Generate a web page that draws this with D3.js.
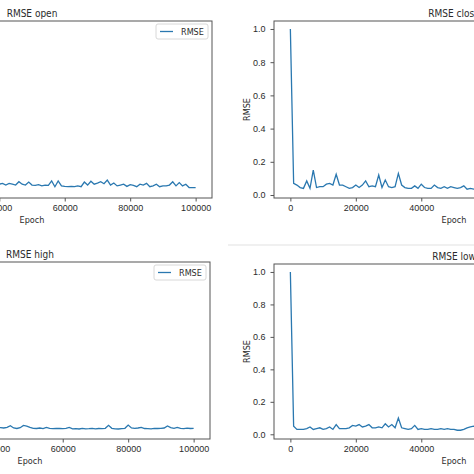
<!DOCTYPE html>
<html lang="en">
<head>
<meta charset="UTF-8">
<title>RMSE per epoch</title>
<script src="https://cdn.jsdelivr.net/npm/d3@7"></script>
<style>
    body { margin: 0; background: #fff; }
    svg { display: block; font-family: "DejaVu Sans Condensed", "DejaVu Sans", sans-serif; }
</style>
</head>
<body>
<svg width="474" height="474"></svg>
<script>
    // epochs sampled every 1000
    const epochs = d3.range(0, 100001, 1000);
    const xTicks = [0, 20000, 40000, 60000, 80000, 100000];
    const yTicks = [0, 0.2, 0.4, 0.6, 0.8, 1.0];

    // values (one per 1000 epochs)
    const openRmse = [
        1.0, 0.08, 0.065, 0.06, 0.07, 0.06, 0.075, 0.06, 0.065, 0.07,
        0.06, 0.065, 0.07, 0.06, 0.08, 0.065, 0.06, 0.07, 0.065, 0.06,
        0.07, 0.075, 0.06, 0.065, 0.07, 0.06, 0.065, 0.07, 0.06, 0.065,
        0.07, 0.06, 0.075, 0.065, 0.06, 0.07, 0.065, 0.06, 0.07, 0.065,
        0.065, 0.07, 0.06, 0.07, 0.065, 0.06, 0.08, 0.065, 0.06, 0.078,
        0.06, 0.058, 0.062, 0.055, 0.06, 0.058, 0.085, 0.05, 0.085, 0.055,
        0.052, 0.05, 0.052, 0.05, 0.055, 0.05, 0.078, 0.06, 0.083, 0.065,
        0.072, 0.08, 0.068, 0.09, 0.06, 0.072, 0.055, 0.06, 0.065, 0.052,
        0.062, 0.058, 0.05, 0.065, 0.06, 0.07, 0.05, 0.055, 0.065, 0.05,
        0.055, 0.055, 0.06, 0.08, 0.055, 0.075, 0.055, 0.065, 0.045, 0.045,
        0.045
    ];
    const closeRmse = [
        1.0, 0.07, 0.06, 0.045, 0.04, 0.085, 0.04, 0.15, 0.045, 0.05,
        0.05, 0.065, 0.07, 0.06, 0.125, 0.06, 0.06, 0.05, 0.04, 0.045,
        0.06, 0.045, 0.06, 0.085, 0.05, 0.055, 0.05, 0.12, 0.045, 0.09,
        0.05, 0.045, 0.05, 0.13, 0.06, 0.045, 0.04, 0.04, 0.055, 0.04,
        0.065, 0.045, 0.04, 0.04, 0.06, 0.045, 0.04, 0.05, 0.04, 0.05,
        0.045, 0.04, 0.045, 0.055, 0.035, 0.04, 0.035, 0.04, 0.045, 0.035,
        0.05, 0.04, 0.035, 0.045, 0.04, 0.055, 0.04, 0.035, 0.04, 0.045,
        0.035, 0.04, 0.05, 0.04, 0.035, 0.04, 0.045, 0.04, 0.035, 0.04,
        0.05, 0.04, 0.035, 0.045, 0.04, 0.035, 0.04, 0.045, 0.04, 0.035,
        0.04, 0.05, 0.04, 0.035, 0.04, 0.045, 0.04, 0.035, 0.04, 0.035,
        0.04
    ];
    const highRmse = [
        1.0, 0.06, 0.045, 0.04, 0.042, 0.038, 0.045, 0.04, 0.036, 0.042,
        0.04, 0.038, 0.045, 0.04, 0.036, 0.04, 0.042, 0.038, 0.04, 0.036,
        0.04, 0.045, 0.038, 0.04, 0.036, 0.04, 0.042, 0.038, 0.04, 0.036,
        0.04, 0.038, 0.045, 0.04, 0.036, 0.038, 0.04, 0.036, 0.04, 0.038,
        0.04, 0.04, 0.038, 0.042, 0.052, 0.038, 0.035, 0.04, 0.054, 0.05,
        0.042, 0.036, 0.035, 0.038, 0.034, 0.042, 0.036, 0.034, 0.036, 0.035,
        0.034, 0.036, 0.042, 0.033, 0.034, 0.032, 0.036, 0.033, 0.034, 0.036,
        0.033, 0.035, 0.034, 0.036, 0.054, 0.036, 0.033, 0.032, 0.034, 0.036,
        0.056, 0.038, 0.036, 0.038, 0.042, 0.035, 0.034, 0.033, 0.036, 0.035,
        0.036, 0.038, 0.05, 0.04, 0.036, 0.042, 0.036, 0.034, 0.037, 0.035,
        0.036
    ];
    const lowRmse = [
        1.0, 0.05, 0.03, 0.03, 0.03, 0.035, 0.045, 0.03, 0.035, 0.04,
        0.03, 0.035, 0.045, 0.03, 0.06, 0.035, 0.035, 0.035, 0.04, 0.055,
        0.05, 0.06, 0.045, 0.05, 0.06, 0.04, 0.04, 0.045, 0.04, 0.065,
        0.045, 0.06, 0.04, 0.1, 0.04, 0.035, 0.03, 0.035, 0.055, 0.03,
        0.035, 0.03, 0.03, 0.035, 0.03, 0.03, 0.035, 0.03, 0.035, 0.03,
        0.03, 0.025, 0.025, 0.03, 0.04, 0.045, 0.05, 0.04, 0.035, 0.03,
        0.035, 0.04, 0.03, 0.035, 0.03, 0.04, 0.035, 0.03, 0.035, 0.04,
        0.03, 0.035, 0.03, 0.04, 0.035, 0.03, 0.035, 0.03, 0.04, 0.035,
        0.03, 0.035, 0.04, 0.03, 0.035, 0.03, 0.035, 0.04, 0.03, 0.035,
        0.03, 0.04, 0.035, 0.03, 0.035, 0.03, 0.035, 0.04, 0.03, 0.035,
        0.03
    ];

    const panels = [
        {title: "RMSE open",  values: openRmse,  left: -148, top: 21,  bottom: 198, yDomain: [-0.018, 1.048]},
        {title: "RMSE close", values: closeRmse, left: 274,  top: 21,  bottom: 198, yDomain: [-0.018, 1.048]},
        {title: "RMSE high",  values: highRmse,  left: -150, top: 262, bottom: 439, yDomain: [-0.029, 1.049]},
        {title: "RMSE low",   values: lowRmse,   left: 274,  top: 264, bottom: 439, yDomain: [-0.029, 1.049]}
    ];

    const svg = d3.select("svg");
    const panelWidth = 360;
    const textColor = "#2b2b2b";
    const spineColor = "#555";
    const lineColor = "#2a78b0";

    // faint seam between the pasted pictures
    svg.append("rect").attr("x", 228).attr("y", 244).attr("width", 246).attr("height", 2).attr("fill", "#f0f0f0");

    panels.forEach(p => {
        let x = d3.scaleLinear().domain([-5000, 105000]).range([p.left, p.left + panelWidth]);
        let y = d3.scaleLinear().domain(p.yDomain).range([p.bottom, p.top]);
        let g = svg.append("g");

        // x axis
        let xa = g.append("g")
            .attr("transform", `translate(0,${p.bottom})`)
            .call(d3.axisBottom(x).tickValues(xTicks).tickFormat(d3.format("d")).tickSize(3.5).tickPadding(3));
        // y axis
        let ya = g.append("g")
            .attr("transform", `translate(${p.left},0)`)
            .call(d3.axisLeft(y).tickValues(yTicks).tickFormat(d3.format(".1f")).tickSize(3.5).tickPadding(5));
        [xa, ya].forEach(a => {
            a.select(".domain").remove();
            a.selectAll("line").attr("stroke", spineColor);
            a.selectAll("text").attr("fill", textColor).style("font-size", "9px").style("font-family", null);
        });

        // line
        let line = d3.line().x((d, i) => x(epochs[i])).y(d => y(d));
        g.append("path")
            .datum(p.values)
            .attr("fill", "none")
            .attr("stroke", lineColor)
            .attr("stroke-width", 1.3)
            .attr("d", line);

        // frame
        g.append("rect")
            .attr("x", p.left).attr("y", p.top)
            .attr("width", panelWidth).attr("height", p.bottom - p.top)
            .attr("fill", "none").attr("stroke", spineColor).attr("stroke-width", 1);

        // title & labels
        g.append("text")
            .attr("x", p.left + panelWidth / 2).attr("y", p.top - 4)
            .attr("text-anchor", "middle").attr("fill", textColor)
            .style("font-size", "10px").text(p.title);
        g.append("text")
            .attr("x", p.left + panelWidth / 2).attr("y", p.bottom + 25)
            .attr("text-anchor", "middle").attr("fill", textColor)
            .style("font-size", "9px").text("Epoch");
        g.append("text")
            .attr("transform", `translate(${p.left - 24},${(p.top + p.bottom) / 2}) rotate(-90)`)
            .attr("text-anchor", "middle").attr("fill", textColor)
            .style("font-size", "9px").text("RMSE");

        // legend
        let lx = p.left + panelWidth - 56, ly = p.top + 3;
        let lg = g.append("g").attr("transform", `translate(${lx},${ly})`);
        lg.append("rect").attr("width", 52).attr("height", 15).attr("rx", 2)
            .attr("fill", "#fff").attr("stroke", "#d8d8d8");
        lg.append("line").attr("x1", 4).attr("x2", 17).attr("y1", 7.5).attr("y2", 7.5)
            .attr("stroke", lineColor).attr("stroke-width", 1.3);
        lg.append("text").attr("x", 25).attr("y", 10.8).attr("fill", textColor)
            .style("font-size", "9px").text("RMSE");
    });
</script>
</body>
</html>
